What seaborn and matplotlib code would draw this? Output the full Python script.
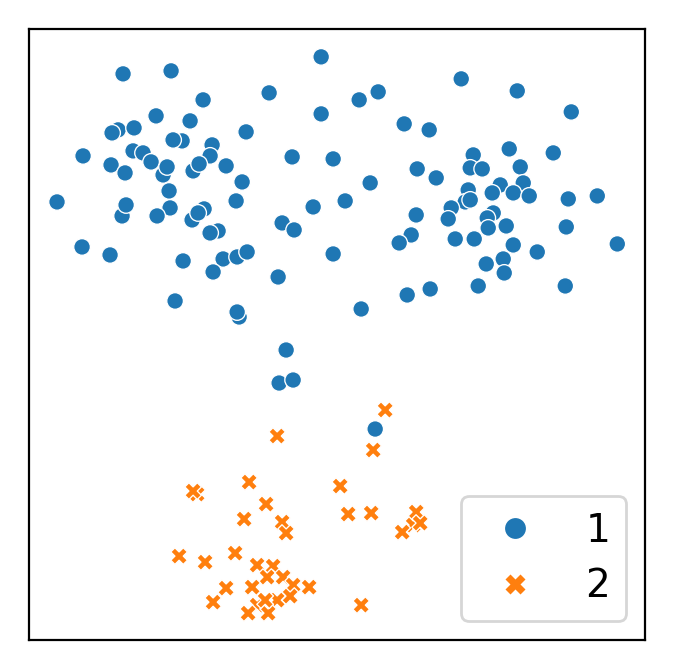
import numpy as np
import pandas as pd
import seaborn as sns
import matplotlib.pyplot as plt

x1 = [123, 171, 321, 269, 203, 321, 156, 190, 118, 112, 134, 246, 182, 173,
      212, 210, 83, 133, 143, 151, 163, 167, 111, 125, 193, 199, 226, 292,
      333, 242, 169, 57, 236, 313, 122, 126, 170, 157, 204, 192, 198, 218,
      210, 282, 294, 82, 110, 183, 223, 213, 237, 247, 278, 333, 175, 239,
      237, 345,
      461, 378, 359, 517, 571, 404, 429, 473, 509, 553, 470, 482, 520, 417,
      436, 370, 523, 500, 468, 492, 513, 529, 597, 568, 465, 470, 451, 448,
      416, 493, 487, 488, 506, 566, 411, 399, 455, 474, 513, 537, 617, 503,
      486, 504, 478, 565, 407, 430, 361,
      286, 279, 293, 375]
y1 = [597, 600, 614, 578, 571, 557, 555, 550, 541, 538, 543, 539, 530, 531,
      526, 515, 515, 520, 518, 509, 496, 504, 506, 498, 500, 507, 505, 514,
      512, 489, 480, 469, 470, 464, 455, 466, 463, 455, 462, 451, 458, 440,
      438, 448, 441, 424, 416, 410, 412, 399, 414, 419, 394, 417, 370, 354,
      359, 470,
      592, 579, 571, 580, 559, 547, 541, 516, 522, 518, 503, 502, 504, 502,
      493, 488, 488, 486, 481, 478, 478, 475, 475, 472, 469, 471, 463, 452,
      456, 458, 453, 443, 445, 444, 436, 428, 432, 432, 426, 419, 427, 412,
      407, 398, 385, 385, 376, 382, 362,
      321, 288, 291, 242]

# --- group 2 points ---
x2 = [385, 277, 373, 249, 340, 197, 193, 266, 244, 282, 286, 348, 371, 416,
      413, 420, 402, 179, 205, 235, 257, 273, 267, 283, 293, 309, 252, 226,
      213, 290, 277, 257, 248, 268, 361, 265]
y2 = [261, 235, 221, 189, 185, 177, 180, 167, 152, 149, 138, 157, 158, 159,
      146, 148, 139, 115, 109, 118, 106, 105, 94, 94, 86, 84, 84, 83, 69,
      75, 71, 66, 58, 58, 66, 71]

groups = ['1', '2']

df = pd.DataFrame({
    'x': x1 + x2,
    'y': y1 + y2,
    'group': [groups[0]] * len(x1) + [groups[1]] * len(x2),
})

fig = plt.figure(figsize=(3.375, 3.355), dpi=200)
ax = fig.add_axes([0.043, 0.046, 0.913, 0.911])

sns.scatterplot(data=df, x='x', y='y', hue='group', style='group', ax=ax)

ax.set_xlim(29, 645)
ax.set_ylim(31, 642)
ax.set_xticks([])
ax.set_yticks([])
ax.set_xlabel('')
ax.set_ylabel('')
leg = ax.legend(loc='lower right', fontsize=14, markerscale=1.25,
                labelspacing=0.45)
for h in leg.legend_handles:
    h.set_markeredgecolor('none')

fig.savefig('out.png', dpi=200)
